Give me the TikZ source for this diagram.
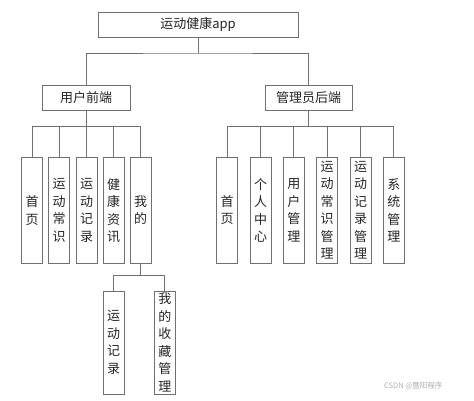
\documentclass[tikz,border=0pt]{standalone}
\usepackage{fontspec}
\newfontfamily\cjk{Noto Sans CJK SC}
\definecolor{ln}{HTML}{707070}
\definecolor{wm}{HTML}{B0B0B0}
\begin{document}
\begin{tikzpicture}[x=1pt,y=-1pt,
  box/.style={draw=ln,line width=0.9pt,inner sep=0pt,font=\cjk\fontsize{13}{17.5}\selectfont,text=black!85},
  hbox/.style={box,minimum height=25pt},
  vbox/.style={box,minimum width=21pt,minimum height=106pt,align=center},
  conn/.style={draw=ln,line width=0.9pt}]
\useasboundingbox[fill=white] (0,0) rectangle (474,401);
% top
\node[hbox,minimum width=200pt] (root) at (198,24.5) {运动健康app};
\node[hbox,minimum width=88pt] (user) at (86,98) {用户前端};
\node[hbox,minimum width=87pt] (admin) at (308.5,98) {管理员后端};
% user leaves
\node[vbox] (u1) at (32,210.5) {首\\页};
\node[vbox] (u2) at (59.2,210.5) {运\\动\\常\\识};
\node[vbox] (u3) at (86.5,210.5) {运\\动\\记\\录};
\node[vbox] (u4) at (113.5,210.5) {健\\康\\资\\讯};
\node[vbox] (u5) at (140.5,210) {我\\的};
% admin leaves
\node[vbox] (a1) at (227.2,210.2) {首\\页};
\node[vbox] (a2) at (260.5,210.2) {个\\人\\中\\心};
\node[vbox] (a3) at (293.8,210.2) {用\\户\\管\\理};
\node[vbox] (a4) at (327.2,210.2) {运\\动\\常\\识\\管\\理};
\node[vbox] (a5) at (360.5,210.2) {运\\动\\记\\录\\管\\理};
\node[vbox] (a6) at (393.8,210.2) {系\\统\\管\\理};
% my leaves
\node[vbox,minimum height=103pt] (m1) at (113.5,342.5) {运\\动\\记\\录};
\node[vbox,minimum height=103pt] (m2) at (164.8,342.5) {我\\的\\收\\藏\\管\\理};
% connectors
\coordinate (rj) at (198,53);
\draw[conn] (root.south) -- (rj);
\draw[conn] (user.north) |- (rj) -| (admin.north);
\coordinate (uj) at (86,126.7);
\draw[conn] (user.south) -- (uj);
\foreach \n in {u1,u2,u3,u4,u5}{\draw[conn] (\n.north) |- (uj);}
\coordinate (aj) at (308.5,126.7);
\draw[conn] (admin.south) -- (aj);
\foreach \n in {a1,a2,a3,a4,a5,a6}{\draw[conn] (\n.north) |- (aj);}
\coordinate (mj) at (140.5,275.3);
\draw[conn] (u5.south) -- (mj);
\draw[conn] (m1.north) |- (mj) -| (m2.north);
% watermark
\node[font=\cjk\fontsize{7.5}{9}\selectfont,text=wm,anchor=east] (wmk) at (446,386) {CSDN @暨阳程序};
\end{tikzpicture}
\end{document}
